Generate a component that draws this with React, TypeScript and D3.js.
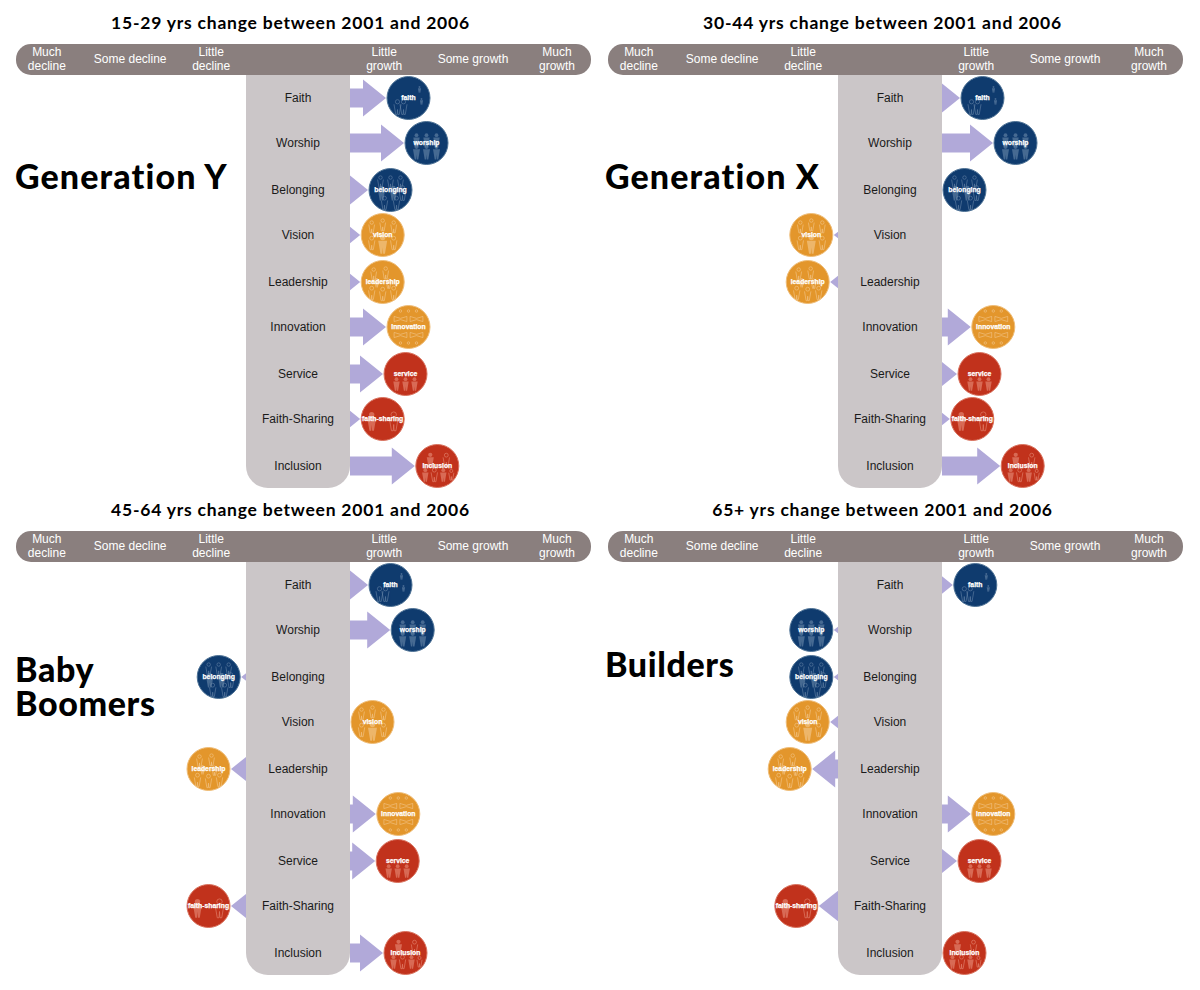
import React from 'react';
import * as d3 from 'd3';

const WIDTH = 1200;
const HEIGHT = 990;

const categories = ['Faith', 'Worship', 'Belonging', 'Vision', 'Leadership', 'Innovation', 'Service', 'Faith-Sharing', 'Inclusion'];
const badgeGroups = ['navy', 'navy', 'navy', 'orange', 'orange', 'orange', 'red', 'red', 'red'];

const genYValues = [6, 9, 3, 1.7, 1.7, 6, 5.5, 1.7, 10.8];
const genXValues = [3, 8.5, 0, -0.7, -1.3, 4.8, 2.5, 1.3, 9.7];
const boomerValues = [3, 6.7, -0.8, 0, -2.5, 4.3, 4.2, -2.5, 5.5];
const builderValues = [1.8, -0.7, -0.7, -1.3, -4.3, 4.8, 2.5, -3.2, 0];

const headerLabels = [['Much', 'decline'], ['Some decline'], ['Little', 'decline'], ['Little', 'growth'], ['Some growth'], ['Much', 'growth']];
const headerTicks = [-33.2, -19.3, -5.8, 5.7, 20.5, 34.5];

const panelTitles = ['15-29 yrs change between 2001 and 2006', '30-44 yrs change between 2001 and 2006', '45-64 yrs change between 2001 and 2006', '65+ yrs change between 2001 and 2006'];
const panelNames = [['Generation Y'], ['Generation X'], ['Baby', 'Boomers'], ['Builders']];
const panelValues = [genYValues, genXValues, boomerValues, builderValues];

const COLORS: Record<string, { fill: string; stroke: string; art: string }> = {
  navy: { fill: '#0f3b6e', stroke: '#4f7396', art: '#6b8aaa' },
  orange: { fill: '#e3962c', stroke: '#efbd78', art: '#f4cb95' },
  red: { fill: '#c1321c', stroke: '#d9735f', art: '#e8907c' },
};

// little people inside the badges: x, y, size, kind (0 outline, 1 filled, 2 bow, 3 head)
const ICONS: Record<string, number[][]> = {
  Faith: [[-11, 8, 1.1, 0], [-5, 8, 1.1, 0], [11, -9, 0.5, 1], [13, 3, 0.5, 1]],
  Worship: [[-10, -4, 1, 1], [0, -4, 1, 1], [10, -4, 1, 1], [-10, 8, 1.1, 1], [0, 8, 1.1, 1], [10, 8, 1.1, 1]],
  Belonging: [[-10, -9, 0.9, 0], [0, -9, 0.9, 0], [10, -9, 0.9, 0], [-9, 2, 1.1, 1], [3, 2, 1.1, 1], [12, 2, 1.1, 0], [-6, 12, 1, 0], [6, 12, 1, 0]],
  Vision: [[-11, -9, 0.9, 0], [0, -11, 0.9, 0], [11, -9, 0.9, 0], [-11, 7, 1, 0], [11, 7, 1, 0], [0, 8, 1.4, 1]],
  Leadership: [[-9, -9, 0.9, 0], [3, -10, 0.9, 0], [-6, 0, 0.7, 1], [6, 1, 0.7, 0], [-11, 10, 1, 0], [0, 11, 1, 0], [11, 10, 1, 0]],
  Innovation: [[-8, -16, 0.55, 3], [0, -16, 0.55, 3], [8, -16, 0.55, 3], [-8, -8, 1, 2], [8, -8, 1, 2], [-8, 8, 1, 2], [8, 8, 1, 2], [-8, 16, 0.55, 3], [0, 16, 0.55, 3], [8, 16, 0.55, 3]],
  Service: [[-9, 9, 1, 1], [0, 9, 1, 1], [9, 9, 1, 1]],
  'Faith-Sharing': [[-11, 1, 1.4, 1], [11, 1, 1.4, 0]],
  Inclusion: [[-7, -7, 1.1, 1], [9, -7, 1, 0], [-12, 8, 1, 1], [-3, 8, 1, 0], [6, 8, 1, 1], [14, 8, 0.8, 0]],
};

const panelX = d3.scalePoint<number>().domain([0, 1]).range([246, 838]);
const panelY = d3.scalePoint<number>().domain([0, 1]).range([0, 487]);
const rowY = d3.scalePoint<string>().domain(categories).range([98, 466]);
const changeScale = d3.scaleLinear().domain([0, 40]).range([0, 240]);

const COL_W = 104;
const HEAD_LEN = 23;
const SHAFT = 19;

function columnPath(x: number, top: number, bottom: number, r: number) {
  const p = d3.path();
  p.moveTo(x, top);
  p.lineTo(x + COL_W, top);
  p.lineTo(x + COL_W, bottom - r);
  p.arcTo(x + COL_W, bottom, x + COL_W - r, bottom, r);
  p.lineTo(x + r, bottom);
  p.arcTo(x, bottom, x, bottom - r, r);
  p.closePath();
  return p.toString();
}

function arrowPath(base: number, value: number, y: number) {
  const dir = value < 0 ? -1 : 1;
  const len = Math.abs(changeScale(value));
  const head = Math.min(len, HEAD_LEN);
  const half = head * 0.8;
  const neck = base + dir * (len - head);
  const tip = base + dir * len;
  const line = d3.line();
  const pts: [number, number][] = [];
  if (len > head) {
    pts.push([base, y - SHAFT / 2], [neck, y - SHAFT / 2]);
  }
  pts.push([neck, y - half], [tip, y], [neck, y + half]);
  if (len > head) {
    pts.push([neck, y + SHAFT / 2], [base, y + SHAFT / 2]);
  }
  return line(pts) + 'Z';
}

function Person({ x, y, size, kind, color }: { x: number; y: number; size: number; kind: number; color: string }) {
  const s = size * 3.2;
  if (kind === 3) {
    return <circle cx={x} cy={y} r={s * 0.7} fill="none" stroke={color} strokeWidth={0.7} opacity={0.8} />;
  }
  if (kind === 2) {
    const bow = `M${x - s * 2},${y - s * 0.8}L${x},${y - s * 0.2}L${x + s * 2},${y - s * 0.8}L${x + s * 2},${y + s * 0.8}L${x},${y + s * 0.2}L${x - s * 2},${y + s * 0.8}Z`;
    return <path d={bow} fill="none" stroke={color} strokeWidth={0.7} opacity={0.8} />;
  }
  const filled = kind === 1;
  const body = `M${x - s},${y - s * 0.5}L${x - s * 0.5},${y + s * 2.4}L${x - s * 0.1},${y + s * 2.4}L${x},${y + s}L${x + s * 0.1},${y + s * 2.4}L${x + s * 0.5},${y + s * 2.4}L${x + s},${y - s * 0.5}${filled ? 'Z' : ''}`;
  return (
    <g fill={filled ? color : 'none'} stroke={color} strokeWidth={filled ? 0 : 0.7} opacity={filled ? 0.6 : 0.8}>
      <circle cx={x} cy={y - s * 1.2} r={s * 0.6} />
      <path d={body} />
    </g>
  );
}

function Badge({ name, group, cx, cy }: { name: string; group: string; cx: number; cy: number }) {
  const c = COLORS[group];
  const clipId = `clip-${name}-${Math.round(cx)}-${Math.round(cy)}`;
  const r = 21.5;
  return (
    <g>
      <clipPath id={clipId}><circle cx={cx} cy={cy} r={r} /></clipPath>
      <circle cx={cx} cy={cy} r={r} fill={c.fill} stroke={c.stroke} strokeWidth={1} />
      <g clipPath={`url(#${clipId})`}>
        {ICONS[name].map((d, i) => (
          <Person key={i} x={cx + d[0]} y={cy + d[1]} size={d[2]} kind={d[3]} color={c.art} />
        ))}
      </g>
      <text x={cx} y={cy + 1.5} textAnchor="middle" fontFamily="Liberation Sans" fontWeight="bold" fontSize={6.8} fill="#fff" stroke="#fff" strokeWidth={0.25}>
        {name.toLowerCase()}
      </text>
    </g>
  );
}

function Panel({ index }: { index: number }) {
  const left = panelX(index % 2) as number;
  const dy = panelY(index < 2 ? 0 : 1) as number;
  const right = left + COL_W;
  const values = panelValues[index];
  const names = panelNames[index];
  const xOf = (v: number) => (v < 0 ? left : right) + changeScale(v);

  return (
    <g>
      <text x={left + 44.5} y={dy + 29} textAnchor="middle" fontFamily="Lato" fontWeight="bold" fontSize={17.5} letterSpacing={0.78} fill="#000">
        {panelTitles[index]}
      </text>
      <rect x={left - 230} y={dy + 44} width={575} height={31} rx={15} fill="#8a7f7e" />
      {headerLabels.map((lines, i) => {
        const x = (headerTicks[i] < 0 ? left : right) + changeScale(headerTicks[i]);
        return (
          <text key={i} textAnchor="middle" fontFamily="Liberation Sans" fontSize={12} fill="#fff">
            {lines.map((t, j) => (
              <tspan key={j} x={x} y={dy + (lines.length === 1 ? 63 : 56 + j * 14)}>{t}</tspan>
            ))}
          </text>
        );
      })}
      <path d={columnPath(left, dy + 75, dy + 488, 22)} fill="#cbc6c8" />
      {names.map((t, i) => (
        <text key={t} x={left - 231 - (index % 2 ? 2 : 0)} y={dy + (index === 3 ? 190 : index === 2 ? 195 : 189) + i * 34} fontFamily="Lato" fontWeight="900" fontSize={34} letterSpacing={index < 2 ? 1.1 : 0.6} fill="#000">
          {t}
        </text>
      ))}
      {categories.map((name, i) => {
        const y = dy + (rowY(name) as number) - (i % 2);
        const v = values[i];
        const dir = v < 0 ? -1 : 1;
        return (
          <g key={name}>
            <text x={left + 52} y={y + 4.2} textAnchor="middle" fontFamily="Liberation Sans" fontSize={12} fill="#1a1a1a">{name}</text>
            {v !== 0 && <path d={arrowPath(v < 0 ? left : right, v, y)} fill="#b1a9d9" />}
            <Badge name={name} group={badgeGroups[i]} cx={xOf(v) + dir * 22.5} cy={y} />
          </g>
        );
      })}
    </g>
  );
}

export default function App() {
  return (
    <svg width={WIDTH} height={HEIGHT} viewBox={`0 0 ${WIDTH} ${HEIGHT}`} style={{ position: 'absolute', left: 0, top: 0, display: 'block', background: '#fff' }}>
      {panelTitles.map((t, i) => <Panel key={t} index={i} />)}
    </svg>
  );
}
